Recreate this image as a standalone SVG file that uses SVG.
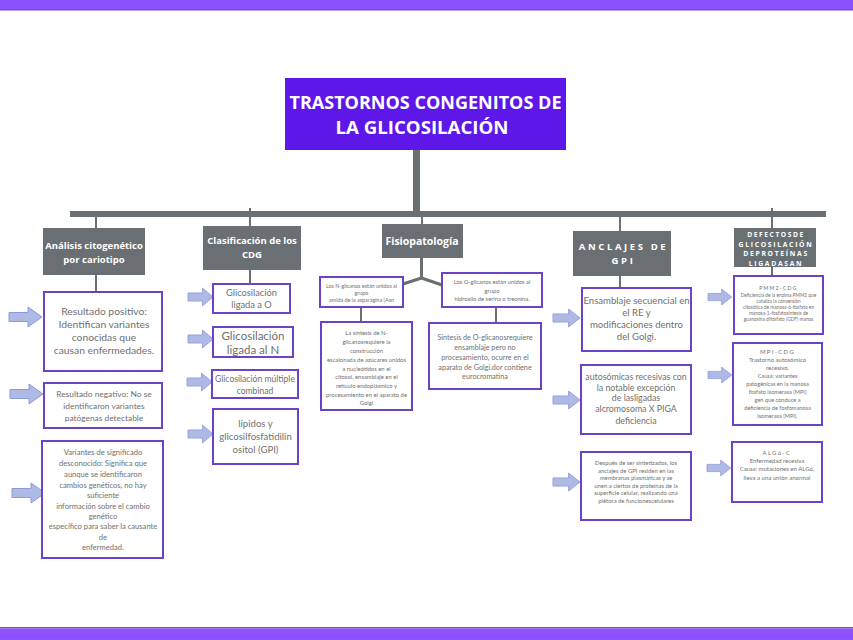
<svg xmlns="http://www.w3.org/2000/svg" xmlns:xlink="http://www.w3.org/1999/xlink" width="853" height="640" viewBox="0 0 853 640">
<defs>
<style>
.bx{fill:#ffffff;stroke:#6b43c9;stroke-width:2}
.hd{fill:#6a6f73}
.ln{fill:#6a6f73}
.t{font-family:Lato,"Open Sans","Liberation Sans",sans-serif;fill:#707070;text-anchor:middle}
.h{font-family:"Open Sans",Lato,"Liberation Sans",sans-serif;font-weight:bold;fill:#ffffff;text-anchor:middle}
.arr{fill:#aeb9e6;stroke:#8d9bd8;stroke-width:1}
</style>
<path id="arr" d="M0,-4.5 H19 V-10 L33,0 L19,10 V4.5 H0 Z"/>
</defs>
<rect x="0" y="0" width="853" height="9" fill="#8c52ff"/>
<rect x="0" y="9" width="853" height="1.5" fill="#7b49d9"/>
<rect x="0" y="627" width="853" height="1.5" fill="#7b49d9"/>
<rect x="0" y="628.5" width="853" height="11.5" fill="#8c52ff"/>

<g id="connectors">
<rect class="ln" x="413" y="150" width="7" height="62"/>
<rect class="ln" x="70" y="211" width="756" height="6"/>
<rect class="ln" x="95" y="217" width="2" height="11"/>
<rect class="ln" x="249" y="208" width="2" height="18"/>
<rect class="ln" x="421" y="217" width="2" height="7"/>
<rect class="ln" x="619" y="217" width="2" height="14"/>
<rect class="ln" x="771" y="208" width="2" height="20"/>
<rect class="ln" x="95" y="275" width="2" height="17"/>
<rect class="ln" x="249" y="270" width="2" height="14"/>
<rect class="ln" x="619" y="276" width="2" height="12"/>
<rect class="ln" x="771" y="267" width="2" height="9"/>
<rect class="ln" x="420" y="258" width="3" height="20"/>
<path d="M421.5,278 L403,284 M421.5,278 L442,285" stroke="#6a6f73" stroke-width="3" fill="none"/>
<rect class="ln" x="360" y="307" width="2" height="15"/>
<rect class="ln" x="495" y="307" width="2" height="16"/>
</g>

<g id="title">
<rect x="285" y="78" width="281" height="72" fill="#5d17e8"/>
<text class="h" x="425.5" y="109" font-size="17.5" textLength="272" lengthAdjust="spacingAndGlyphs">TRASTORNOS CONGENITOS DE</text>
<text class="h" x="422" y="134" font-size="17.5" textLength="173" lengthAdjust="spacingAndGlyphs">LA GLICOSILACIÓN</text>
</g>

<g id="h-analisis">
<rect class="hd" x="43" y="228" width="102" height="47"/>
<text class="h" x="94" y="249" font-size="9.5">Análisis citogenético</text>
<text class="h" x="94" y="263" font-size="9.5">por cariotipo</text>
</g>
<g id="h-clasificacion">
<rect class="hd" x="203" y="226" width="98" height="44"/>
<text class="h" x="252" y="244" font-size="9.5">Clasificación de los</text>
<text class="h" x="252" y="258" font-size="9.5">CDG</text>
</g>
<g id="h-fisio">
<rect class="hd" x="382" y="224" width="81" height="34"/>
<text class="h" x="422" y="245" font-size="10.5">Fisiopatología</text>
</g>
<g id="h-anclajes">
<rect class="hd" x="573" y="231" width="98" height="45"/>
<text class="h" x="623.5" y="250" font-size="9.5" letter-spacing="2.6">ANCLAJES DE</text>
<text class="h" x="623.5" y="264" font-size="9.5" letter-spacing="2.6">GPI</text>
</g>
<g id="h-defectos">
<rect class="hd" x="734" y="228" width="82" height="39"/>
<text class="h" x="776" y="237" font-size="6.6" letter-spacing="1.6">DEFECTOSDE</text>
<text class="h" x="776" y="246.5" font-size="6.8" letter-spacing="1.7" font-weight="normal" fill="#e6e6ea">GLICOSILACIÓN</text>
<text class="h" x="776" y="256" font-size="6.8" letter-spacing="1.7" font-weight="normal" fill="#e6e6ea">DEPROTEÍNAS</text>
<text class="h" x="776" y="265.5" font-size="6.8" letter-spacing="1.7" font-weight="normal" fill="#e6e6ea">LIGADASAN</text>
</g>

<g id="n-positivo">
<use href="#arr" class="arr" transform="translate(9,317)"/>
<rect class="bx" x="44" y="292" width="118" height="79"/>
<text class="t" x="104" y="315" font-size="10.3">Resultado positivo:</text>
<text class="t" x="104" y="328" font-size="10.3">Identifican variantes</text>
<text class="t" x="104" y="341" font-size="10.3">conocidas que</text>
<text class="t" x="104" y="354" font-size="10.3">causan enfermedades.</text>
</g>
<g id="n-negativo">
<use href="#arr" class="arr" transform="translate(10,394)"/>
<rect class="bx" x="44" y="383" width="118" height="45"/>
<text class="t" x="104" y="397" font-size="8.4">Resultado negativo: No se</text>
<text class="t" x="104" y="409" font-size="8.4">identificaron variantes</text>
<text class="t" x="104" y="421" font-size="8.4">patógenas detectable</text>
</g>
<g id="n-vus">
<use href="#arr" class="arr" transform="translate(12,493)"/>
<rect class="bx" x="42" y="441" width="121" height="117"/>
<text class="t" x="103" y="455" font-size="7.6">Variantes de significado</text>
<text class="t" x="103" y="466" font-size="7.6">desconocido: Significa que</text>
<text class="t" x="103" y="477" font-size="7.6">aunque se identificaron</text>
<text class="t" x="103" y="488" font-size="7.6">cambios genéticos, no hay</text>
<text class="t" x="103" y="498" font-size="7.6">suficiente</text>
<text class="t" x="103" y="509" font-size="7.6">información sobre el cambio</text>
<text class="t" x="103" y="519" font-size="7.6">genético</text>
<text class="t" x="103" y="529" font-size="7.6">específico para saber la causante</text>
<text class="t" x="103" y="540" font-size="7.6">de</text>
<text class="t" x="103" y="550" font-size="7.6">enfermedad.</text>
</g>

<g id="n-ligO">
<use href="#arr" class="arr" transform="translate(188,297) scale(0.76,0.9)"/>
<rect class="bx" x="213" y="284" width="77" height="29"/>
<text class="t" x="251.5" y="296" font-size="9.3">Glicosilación</text>
<text class="t" x="251.5" y="308" font-size="9.3">ligada a O</text>
</g>
<g id="n-ligN">
<use href="#arr" class="arr" transform="translate(188,339) scale(0.76,0.9)"/>
<rect class="bx" x="213" y="327" width="80" height="30"/>
<text class="t" x="253" y="340" font-size="11.5">Glicosilación</text>
<text class="t" x="253" y="354" font-size="11.5">ligada al N</text>
</g>
<g id="n-mult">
<use href="#arr" class="arr" transform="translate(187,382) scale(0.76,0.9)"/>
<rect class="bx" x="212" y="370" width="86" height="28"/>
<text class="t" x="255" y="382" font-size="8.6">Glicosilación múltiple</text>
<text class="t" x="255" y="394" font-size="8.6">combinad</text>
</g>
<g id="n-gpi">
<use href="#arr" class="arr" transform="translate(188,434) scale(0.76,0.9)"/>
<rect class="bx" x="213" y="409" width="85" height="55"/>
<text class="t" x="255.5" y="427" font-size="9.6">lípidos y</text>
<text class="t" x="255.5" y="440" font-size="9.6">glicosilfosfatidilin</text>
<text class="t" x="255.5" y="453" font-size="9.6">ositol (GPI)</text>
</g>

<g id="n-nglic">
<rect class="bx" x="320" y="277" width="83" height="30" stroke-width="1.5"/>
<text class="t" x="361.5" y="288" font-size="5.4">Los N-glicanos están unidos al</text>
<text class="t" x="361.5" y="295" font-size="5.4">grupo</text>
<text class="t" x="361.5" y="302" font-size="5.4">amida de la asparagina (Asn</text>
</g>
<g id="n-oglic">
<rect class="bx" x="442" y="273" width="100" height="34" stroke-width="1.5"/>
<text class="t" x="492" y="284" font-size="5.8">Los O-glicanos están unidos al</text>
<text class="t" x="492" y="292.5" font-size="5.8">grupo</text>
<text class="t" x="492" y="301" font-size="5.8">hidroxilo de serina o treonina.</text>
</g>
<g id="n-nsint">
<rect class="bx" x="321" y="322" width="91" height="88"/>
<text class="t" x="366.5" y="335" font-size="5.9">La síntesis de N-</text>
<text class="t" x="366.5" y="344" font-size="5.9">glicanosrequiere la</text>
<text class="t" x="366.5" y="353" font-size="5.9">construcción</text>
<text class="t" x="366.5" y="361.5" font-size="5.9">escalonada de azúcares unidos</text>
<text class="t" x="366.5" y="370.5" font-size="5.9">a nucleótidos en el</text>
<text class="t" x="366.5" y="379" font-size="5.9">citosol, ensamblaje en el</text>
<text class="t" x="366.5" y="388" font-size="5.9">retículo endoplásmico y</text>
<text class="t" x="366.5" y="396.5" font-size="5.9">procesamiento en el aparato de</text>
<text class="t" x="366.5" y="405" font-size="5.9">Golgi</text>
</g>
<g id="n-osint">
<rect class="bx" x="429" y="323" width="112" height="66"/>
<text class="t" x="485" y="340" font-size="7.2">Síntesis de O-glicanosrequiere</text>
<text class="t" x="485" y="350" font-size="7.2">ensamblaje pero no</text>
<text class="t" x="485" y="360" font-size="7.2">procesamiento, ocurre en el</text>
<text class="t" x="485" y="370" font-size="7.2">aparato de Golgi.dor contiene</text>
<text class="t" x="485" y="379" font-size="7.2">eurocromatina</text>
</g>

<g id="n-ensamblaje">
<use href="#arr" class="arr" transform="translate(553,318) scale(0.82,0.9)"/>
<rect class="bx" x="582" y="288" width="109" height="63"/>
<text class="t" x="636.5" y="304" font-size="9.6">Ensamblaje secuencial en</text>
<text class="t" x="636.5" y="316" font-size="9.6">el RE y</text>
<text class="t" x="636.5" y="328" font-size="9.6">modificaciones dentro</text>
<text class="t" x="636.5" y="340" font-size="9.6">del Golgi.</text>
</g>
<g id="n-autosomicas">
<use href="#arr" class="arr" transform="translate(553,400) scale(0.82,0.9)"/>
<rect class="bx" x="581" y="365" width="110" height="69"/>
<text class="t" x="636" y="380" font-size="8.8">autosómicas recesivas con</text>
<text class="t" x="636" y="391" font-size="8.8">la notable excepción</text>
<text class="t" x="636" y="401" font-size="8.8">de lasligadas</text>
<text class="t" x="636" y="412" font-size="8.8">alcromosoma X PIGA</text>
<text class="t" x="636" y="424" font-size="8.8">deficiencia</text>
</g>
<g id="n-despues">
<use href="#arr" class="arr" transform="translate(553,482) scale(0.82,0.9)"/>
<rect class="bx" x="581" y="452" width="110" height="68"/>
<text class="t" x="636" y="465" font-size="5.9">Después de ser sintetizados, los</text>
<text class="t" x="636" y="472.5" font-size="5.9">anclajes de GPI residen en las</text>
<text class="t" x="636" y="480" font-size="5.9">membranas plasmáticas y se</text>
<text class="t" x="636" y="487.5" font-size="5.9">unen a ciertos de proteínas de la</text>
<text class="t" x="636" y="495" font-size="5.9">superficie celular, realizando una</text>
<text class="t" x="636" y="502.5" font-size="5.9">plétora de funcionescelulares</text>
</g>

<g id="n-pmm2">
<use href="#arr" class="arr" transform="translate(708,297) scale(0.72,0.8)"/>
<rect class="bx" x="734" y="276" width="89" height="58"/>
<text class="t" x="778.5" y="290" font-size="5.2" letter-spacing="1.2">PMM2-CDG</text>
<text class="t" x="778.5" y="297" font-size="4.8">Deficiencia de la enzima PMM2 que</text>
<text class="t" x="778.5" y="303" font-size="4.8">cataliza la conversión</text>
<text class="t" x="778.5" y="309" font-size="4.8">citosólica de manosa-6-fosfato en</text>
<text class="t" x="778.5" y="315" font-size="4.8">manosa-1-fosfatosíntesis de</text>
<text class="t" x="778.5" y="321" font-size="4.8">guanosina difosfato (GDF) manos</text>
</g>
<g id="n-mpi">
<use href="#arr" class="arr" transform="translate(708,375) scale(0.72,0.8)"/>
<rect class="bx" x="733" y="343" width="89" height="82"/>
<text class="t" x="777.5" y="354" font-size="6" letter-spacing="1.3">MPI-CDG</text>
<text class="t" x="777.5" y="362" font-size="6">Trastorno autosómico</text>
<text class="t" x="777.5" y="370" font-size="6">recesivo.</text>
<text class="t" x="777.5" y="378" font-size="5.6">Causa: variantes</text>
<text class="t" x="777.5" y="386" font-size="5.6">patogénicas en la manosa</text>
<text class="t" x="777.5" y="394" font-size="5.6">fosfato isomerasa (MPI)</text>
<text class="t" x="777.5" y="402" font-size="5.6">gen que conduce a</text>
<text class="t" x="777.5" y="410" font-size="5.6">deficiencia de fosfomanosa</text>
<text class="t" x="777.5" y="418" font-size="5.6">isomerasa (MPI).</text>
</g>
<g id="n-alg6">
<use href="#arr" class="arr" transform="translate(707,468) scale(0.72,0.8)"/>
<rect class="bx" x="732" y="442" width="90" height="60"/>
<text class="t" x="777" y="455" font-size="6" letter-spacing="1.3">ALG6-C</text>
<text class="t" x="777" y="463" font-size="6">Enfermedad recesiva</text>
<text class="t" x="777" y="471" font-size="6">Causa: mutaciones en ALG6,</text>
<text class="t" x="777" y="480" font-size="6">lleva a una unión anormal</text>
</g>
</svg>
